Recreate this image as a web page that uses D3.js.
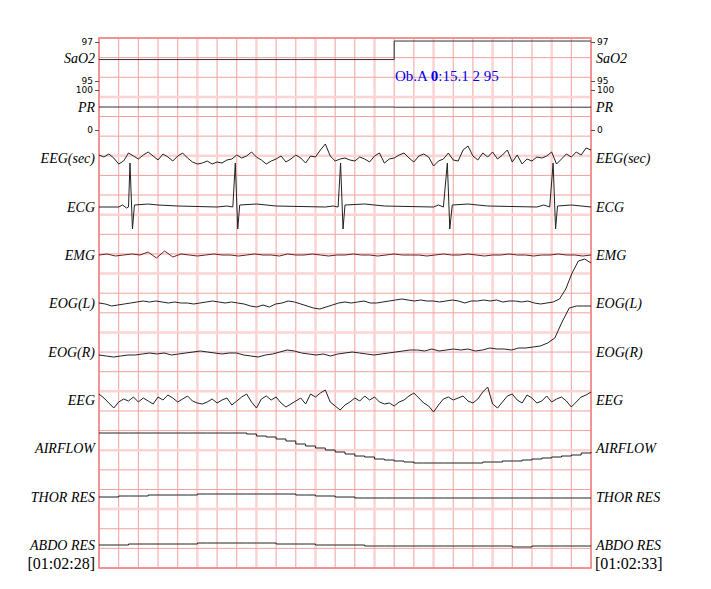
<!DOCTYPE html>
<html>
<head>
<meta charset="utf-8">
<script src="https://cdn.jsdelivr.net/npm/d3@7"></script>
<style>
  body { margin: 0; background: #fff; }
  .lab { font-family: "Liberation Serif", serif; font-style: italic; font-size: 14px; }
  .tick text { font-family: "DejaVu Sans", sans-serif; font-size: 9px; }
</style>
</head>
<body>
<script>
// channel names, top to bottom
const channels = ['EEG(sec)', 'ECG', 'EMG', 'EOG(L)', 'EOG(R)', 'EEG', 'AIRFLOW', 'THOR RES', 'ABDO RES']
const timeLabels = ['[01:02:28]', '[01:02:33]']

// SaO2 (%) as [t, value]
const sao2 = [[0, 96.1], [3.0, 96.1], [3.0, 97.05], [5, 97.05]]
// PR (bpm)
const pr = [[0, 57.5], [3.0, 57.5], [3.0, 57], [5, 57]]

// waveforms: evenly spaced samples over 5 s, offsets from baseline
const eegSec = [3,1,4,0,-6,-3,5,2,-1,3,6,2,-2,4,1,-3,2,5,0,-4,-6,-5,-3,-6,-4,-5,-2,-1,3,0,
  2,6,1,-2,-6,-3,-1,2,-4,-1,3,0,-5,2,1,8,14,2,-3,-1,0,-2,-3,1,-1,-4,2,5,-5,-1,
  0,3,5,0,-4,2,4,1,-8,-3,-1,5,-2,-3,8,12,2,-2,5,1,6,-1,3,8,-4,3,-6,-1,-3,1,
  0,2,6,-6,-1,4,1,6,3,10,8]
const eeg = [6,2,-3,-8,-2,1,-1,3,-2,2,-1,-4,3,0,5,2,-2,1,4,-1,-3,-4,-2,1,-3,0,2,-5,-1,3,
  6,-2,-8,1,4,0,3,-3,-7,-4,-1,2,-4,6,3,7,10,-2,-6,-10,-5,-2,2,-1,4,0,3,-2,-4,-3,
  -6,-2,0,4,7,2,-3,-6,-12,-5,1,3,0,2,4,-1,-3,1,8,13,-4,-8,-2,4,6,0,-3,5,2,-3,
  -1,4,-2,1,3,-1,-7,-2,3,5,8]
const eogL = [0,-1,-3,-2,-1,0,1,2,1,2,1,0,1,0,0,-1,0,1,2,1,0,1,0,-1,-3,-4,-2,-4,-1,0,
  2,1,-1,-3,-5,-6,-4,-2,0,1,0,1,2,0,0,1,2,3,4,3,2,3,2,2,1,2,3,2,0,2,
  2,3,2,3,1,2,2,1,2,0,-1,0,1,4,14,30,42,44,40]
const eogR = [-3,-4,-5,-4,-3,-3,-2,-1,-2,-1,-3,-2,-1,0,1,0,-1,-2,-1,-1,-3,-4,-5,-3,-2,0,2,1,-1,-2,
  -3,-2,-4,-2,-1,0,-1,-2,-3,-2,-1,0,1,2,2,1,3,1,2,3,2,3,1,2,4,3,3,2,4,4,
  5,6,9,14,30,44,46,46,46]
const emg = [0,1,-1,0,1,0,3,-3,4,-2,1,0,-1,0,1,0,0,-1,0,1,0,0,-1,1,0,0,1,0,-1,0,
  0,1,0,0,-1,0,1,0,0,0,-1,0,1,0,0,1,0,-1,0,0,1,0,0,-1,0,0,1,0,0,-1,0]
// ECG key points [t, offset]
const ecg = [[0,0],[0.2,0],[0.24,2],[0.28,-1],[0.3,0],[0.315,44],[0.34,-22],[0.36,2],[0.5,3],[0.6,2],[0.8,1],
  [1.2,0],[1.3,1],[1.36,0],[1.385,44],[1.41,-22],[1.43,2],[1.6,3],[1.8,1],
  [2.3,0],[2.38,1],[2.43,0],[2.455,44],[2.48,-22],[2.5,2],[2.7,3],[2.9,1],
  [3.4,0],[3.45,2],[3.5,0],[3.54,44],[3.565,-22],[3.59,2],[3.75,3],[3.95,1],
  [4.45,0],[4.52,2],[4.58,0],[4.615,44],[4.64,-22],[4.66,1],[4.8,2],[5,0]]
// slow channels sampled every 0.1 s (step plots)
const airflow = [15,15,15,15,15,15,15,15,15,15,15,15,15,15,15,14,12,11,9,7,
  4,2,0,-2,-4,-6,-8,-9,-11,-12,-13,-14,-15,-15,-15,-15,-15,-15,-15,-14,
  -14,-13,-13,-12,-11,-10,-9,-8,-7,-5,-4]
const thor = [0,0,1,1,1,2,2,2,2,2,3,3,3,3,3,3,3,3,3,3,
  2,2,1,1,0,0,-1,-1,-1,-1,-1,-1,-1,-1,-1,-1,-1,-1,-1,-1,
  -1,-1,-1,-1,-1,-1,-1,-1,-1,-1,-1]
const abdo = [0,0,0,1,1,1,1,1,1,1,2,2,2,2,2,2,2,2,1,1,
  1,1,0,0,0,0,0,-1,-1,-1,-1,-1,-1,-1,-1,-1,-1,-1,-1,-1,
  -1,-1,-2,-2,-1,-1,-1,-1,-1,-1,-1]

const W = 711, H = 589
const m = { left: 99, right: 591, top: 38, bottom: 568 }
const centers = [158, 207, 255, 303, 352, 400, 448, 497, 545]

const svg = d3.select('body').append('svg').attr('width', W).attr('height', H)

const x = d3.scaleLinear().domain([0, 5]).range([m.left, m.right])

// grid
const g = svg.append('g')
const cols = d3.range(26), rows = d3.range(28)
const dx = (m.right - m.left) / 25, dy = (m.bottom - m.top) / 27
const lightC = k => k >= 5 && (k - 5) % 3 === 0 && k < 25
const lightR = k => k > 0 && k < 27 && k % 3 === 0
g.selectAll('.vl').data(cols).join('line')
  .attr('x1', k => m.left + k * dx).attr('x2', k => m.left + k * dx)
  .attr('y1', m.top).attr('y2', m.bottom)
  .attr('stroke', k => lightC(k) ? '#fdd3d3' : '#f2a0a0')
  .attr('stroke-width', k => lightC(k) ? 2.5 : 1)
g.selectAll('.hl').data(rows).join('line')
  .attr('y1', k => m.top + k * dy).attr('y2', k => m.top + k * dy)
  .attr('x1', m.left).attr('x2', m.right)
  .attr('stroke', k => lightR(k) ? '#fdd3d3' : '#f2a0a0')
  .attr('stroke-width', k => lightR(k) ? 2.5 : 1)
g.append('rect').attr('x', m.left).attr('y', m.top)
  .attr('width', m.right - m.left).attr('height', m.bottom - m.top)
  .attr('fill', 'none').attr('stroke', '#f08080').attr('stroke-width', 1.5)

// SaO2 and PR axes on both sides
const ySa = d3.scaleLinear().domain([95, 97]).range([81, 42])
const yPr = d3.scaleLinear().domain([0, 100]).range([130, 90])
;[[d3.axisLeft, m.left], [d3.axisRight, m.right]].forEach(([ax, px]) => {
  svg.append('g').attr('transform', `translate(${px},0)`)
    .call(ax(ySa).tickValues([95, 97]).tickFormat(d3.format('d')).tickSize(4).tickPadding(2))
    .call(a => a.select('.domain').remove())
  svg.append('g').attr('transform', `translate(${px},0)`)
    .call(ax(yPr).tickValues([0, 100]).tickFormat(d3.format('d')).tickSize(4).tickPadding(2))
    .call(a => a.select('.domain').remove())
})
svg.selectAll('.tick line').attr('stroke', '#555')

const line = (ys) => d3.line().x(d => x(d[0])).y(d => ys(d[1]))
svg.append('path').datum(sao2).attr('d', line(ySa)).attr('fill', 'none').attr('stroke', '#333')
svg.append('path').datum(pr).attr('d', line(yPr)).attr('fill', 'none').attr('stroke', '#333')

// channel traces
const series = [eegSec, ecg, emg, eogL, eogR, eeg, airflow, thor, abdo]
series.forEach((s, i) => {
  const c = centers[i]
  const y = d3.scaleLinear().domain([-24, 24]).range([c + 24, c - 24])
  let pts = Array.isArray(s[0]) ? s : s.map((v, j) => [j * 5 / (s.length - 1), v])
  const ln = d3.line().x(d => x(d[0])).y(d => y(d[1]))
  if (i >= 6) ln.curve(d3.curveStepAfter)
  svg.append('path').datum(pts).attr('d', ln).attr('fill', 'none')
    .attr('stroke', i === 2 ? '#6b1f1f' : '#222').attr('stroke-width', 1)
})

// labels
const labels = [['SaO2', 63], ['PR', 112]].concat(channels.map((c, i) => [c, centers[i] + 5]))
labels.forEach(([t, yy]) => {
  svg.append('text').attr('class', 'lab').attr('x', 95).attr('y', yy).attr('text-anchor', 'end').text(t)
  svg.append('text').attr('class', 'lab').attr('x', 596).attr('y', yy).text(t)
})

svg.append('text').attr('x', 395).attr('y', 81).attr('fill', '#0000ee')
  .style('font-family', 'Liberation Serif, serif').style('font-size', '15px')
  .html('Ob.A <tspan font-weight="bold">0</tspan>:15.1 2 95')

svg.append('text').attr('x', 95).attr('y', 569).attr('text-anchor', 'end')
  .style('font-family', 'Liberation Serif, serif').style('font-size', '16px').text(timeLabels[0])
svg.append('text').attr('x', 595).attr('y', 569)
  .style('font-family', 'Liberation Serif, serif').style('font-size', '16px').text(timeLabels[1])
</script>
</body>
</html>
